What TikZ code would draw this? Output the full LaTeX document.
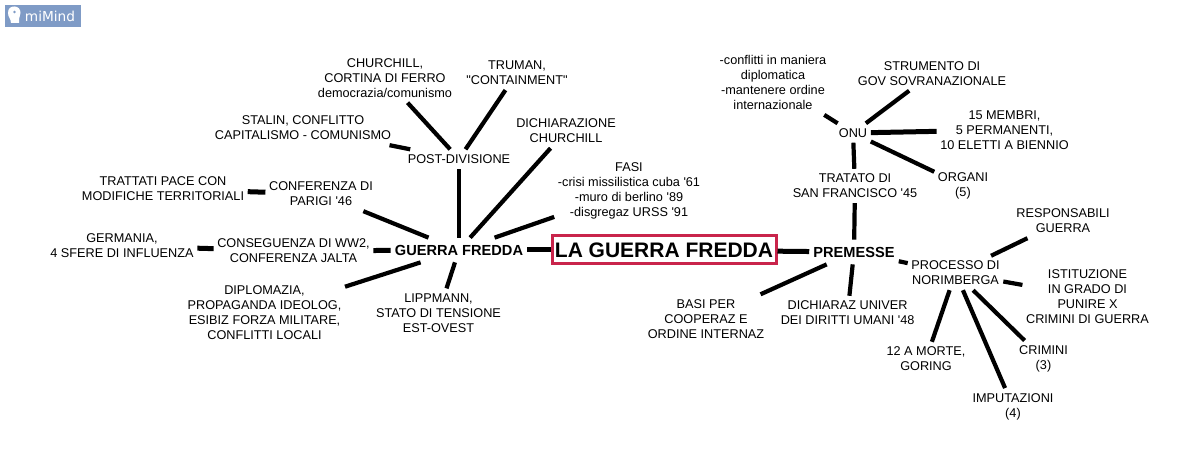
\documentclass[tikz,border=0pt]{standalone}
\usepackage{fontspec}
\newfontfamily\maptext{Liberation Sans}
\newfontfamily\logofont{DejaVu Sans}
\definecolor{rootred}{HTML}{C9244B}
\definecolor{logoblue}{HTML}{7F9BC6}
\begin{document}
\begin{tikzpicture}[x=1pt,y=-1pt,
  idea/.style={align=center,font=\maptext\fontsize{12.7}{15}\selectfont,inner xsep=3.5pt,inner ysep=5pt,yshift=-1pt},
  branch/.style={idea,font=\maptext\fontsize{14.6}{17}\selectfont\bfseries,inner xsep=4pt,inner ysep=7pt,yshift=1pt},
  rootbox/.style={draw=rootred,line width=3pt,fill=white,font=\maptext\fontsize{21}{24}\selectfont\bfseries,minimum width=224pt,minimum height=28pt,inner sep=0pt},
  link/.style={line width=4.2pt,black},
  heavy/.style={line width=5pt,black}]
\useasboundingbox (0,0) rectangle (1200,470);
\fill[white] (0,0) rectangle (1200,470);
% logo
\fill[logoblue] (5,5) rectangle (81,27);
\fill[white] (11,23) .. controls (11,19) and (8,17) .. (8,13) .. controls (8,8) and (11,6.5) .. (14.5,6.5) .. controls (18,6.5) and (20.5,9) .. (20.5,13) .. controls (20.5,16) and (19,17) .. (19,19) -- (19,23) -- cycle;
\fill[logoblue] (14.5,12) circle (1.3);
\node[text=white,font=\logofont\fontsize{13.7}{15}\selectfont,inner sep=0pt] (logo) at (50,16) {miMind};
% central
\node[rootbox] (root) at (664,250) {LA GUERRA FREDDA};
\node[branch] (gf) at (459,250) {GUERRA FREDDA};
\node[branch] (prem) at (854,252) {PREMESSE};
% left
\node[idea] (post) at (459,158) {POST-DIVISIONE};
\node[idea] (churchill) at (385,77) {CHURCHILL,\\CORTINA DI FERRO\\democrazia/comunismo};
\node[idea] (truman) at (517,72) {TRUMAN,\\"CONTAINMENT"};
\node[idea] (stalin) at (303,127) {STALIN, CONFLITTO\\CAPITALISMO - COMUNISMO};
\node[idea] (dich) at (566,130) {DICHIARAZIONE\\CHURCHILL};
\node[idea] (fasi) at (629,190) {FASI\\-crisi missilistica cuba '61\\-muro di berlino '89\\-disgregaz URSS '91};
\node[idea] (parigi) at (321,193) {CONFERENZA DI\\PARIGI '46};
\node[idea] (trattati) at (163,188) {TRATTATI PACE CON\\MODIFICHE TERRITORIALI};
\node[idea] (conseg) at (293.5,250) {CONSEGUENZA DI WW2,\\CONFERENZA JALTA};
\node[idea] (germania) at (122,245) {GERMANIA,\\4 SFERE DI INFLUENZA};
\node[idea] (diplo) at (264.5,311.5) {DIPLOMAZIA,\\PROPAGANDA IDEOLOG,\\ESIBIZ FORZA MILITARE,\\CONFLITTI LOCALI};
\node[idea] (lipp) at (438.5,312) {LIPPMANN,\\STATO DI TENSIONE\\EST-OVEST};
% right
\node[idea] (tratsf) at (855,185) {TRATATO DI\\SAN FRANCISCO '45};
\node[idea] (onu) at (853,132) {ONU};
\node[idea] (confl) at (773,81.5) {-conflitti in maniera\\diplomatica\\-mantenere ordine\\internazionale};
\node[idea] (strum) at (932,72.5) {STRUMENTO DI\\GOV SOVRANAZIONALE};
\node[idea] (membri) at (1004.5,129) {15 MEMBRI,\\5 PERMANENTI,\\10 ELETTI A BIENNIO};
\node[idea] (organi) at (963,184.5) {ORGANI\\(5)};
\node[idea] (proc) at (955.5,272) {PROCESSO DI\\NORIMBERGA};
\node[idea] (resp) at (1063,220) {RESPONSABILI\\GUERRA};
\node[idea] (istit) at (1087.5,295.5) {ISTITUZIONE\\IN GRADO DI\\PUNIRE X\\CRIMINI DI GUERRA};
\node[idea] (basi) at (706,318) {BASI PER\\COOPERAZ E\\ORDINE INTERNAZ};
\node[idea] (univ) at (847.6,312) {DICHIARAZ UNIVER\\DEI DIRITTI UMANI '48};
\node[idea] (morte) at (926,358) {12 A MORTE,\\GORING};
\node[idea] (crimini) at (1043.5,358) {CRIMINI\\(3)};
\node[idea] (imput) at (1013,405.5) {IMPUTAZIONI\\(4)};
% connectors
\draw[heavy] (gf) -- (root);
\draw[heavy] (root) -- (prem);
\draw[link] (gf) -- (post);
\draw[link] (post) -- (churchill);
\draw[link] (post) -- (truman);
\draw[link] (post) -- (stalin);
\draw[link] (gf) -- (dich);
\draw[link] (gf) -- (fasi);
\draw[link] (gf) -- (parigi);
\draw[heavy] (parigi) -- (trattati);
\draw[heavy] (gf) -- (conseg);
\draw[heavy] (conseg) -- (germania);
\draw[link] (gf) -- (diplo);
\draw[link] (gf) -- (lipp);
\draw[link] (prem) -- (tratsf);
\draw[link] (tratsf) -- (onu);
\draw[link] (onu) -- (confl);
\draw[link] (onu) -- (strum);
\draw[heavy] (onu) -- (membri);
\draw[link] (onu) -- (organi);
\draw[link] (prem) -- (proc);
\draw[link] (proc) -- (resp);
\draw[link] (proc) -- (istit);
\draw[link] (proc) -- (morte);
\draw[link] (proc) -- (crimini);
\draw[link] (proc) -- (imput);
\draw[link] (prem) -- (basi);
\draw[link] (prem) -- (univ);
\end{tikzpicture}
\end{document}
